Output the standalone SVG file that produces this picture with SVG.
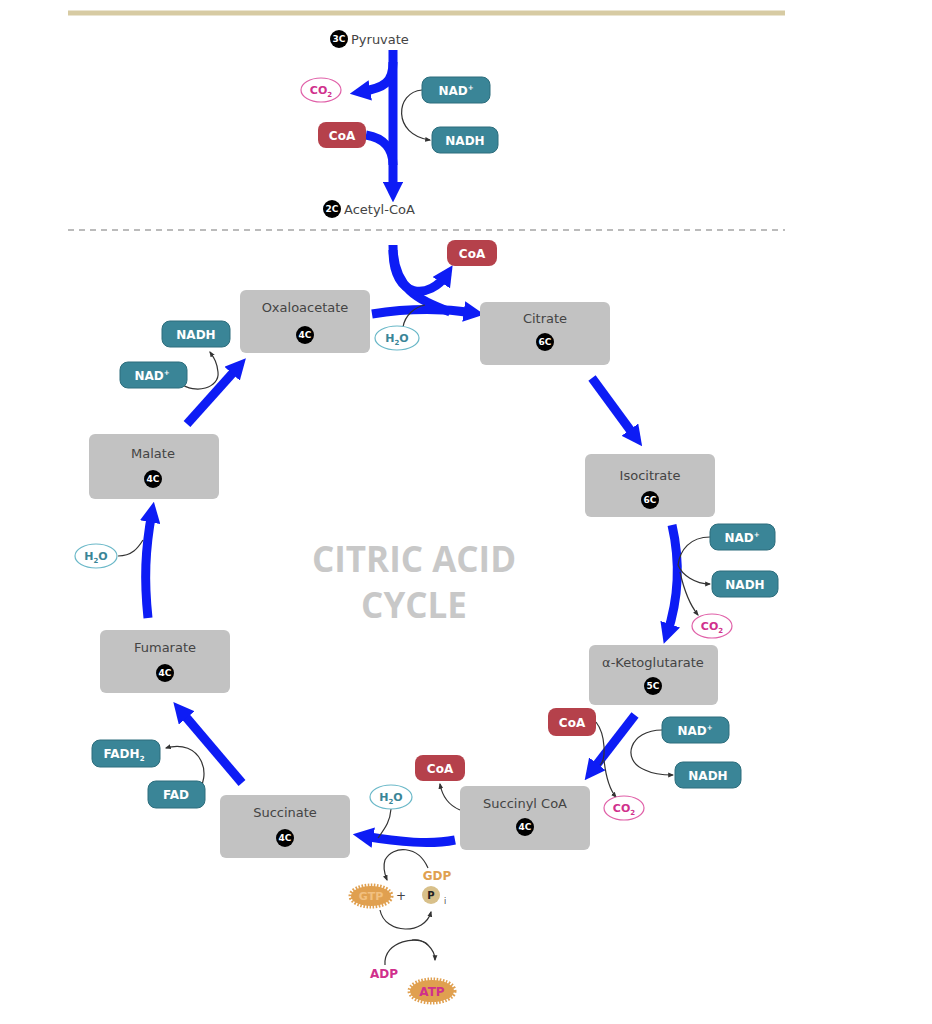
<svg xmlns="http://www.w3.org/2000/svg" width="932" height="1024" viewBox="0 0 932 1024">
<defs>
<marker id="bh" viewBox="0 0 10 10" refX="5" refY="5" markerWidth="2.3" markerHeight="2.3" orient="auto" markerUnits="strokeWidth"><path d="M0,0 L10,5 L0,10 z" fill="#0d1cf5"/></marker>
<marker id="th" viewBox="0 0 10 10" refX="8" refY="5" markerWidth="5" markerHeight="5" orient="auto" markerUnits="strokeWidth"><path d="M0,1 L10,5 L0,9 z" fill="#333"/></marker>
<style>
.box{fill:#c2c2c2}
.lbl{font-family:"DejaVu Sans",sans-serif;font-size:13px;fill:#444;text-anchor:middle}
.bd{fill:#000}
.bt{font-family:"DejaVu Sans",sans-serif;font-size:9px;font-weight:bold;fill:#fff;text-anchor:middle}
.teal{fill:#3a8597;stroke:#2c6d7c;stroke-width:1}
.red{fill:#b5414b}
.pt{font-family:"DejaVu Sans",sans-serif;font-size:12px;font-weight:bold;fill:#fff;text-anchor:middle}
.co2{fill:#fff;stroke:#e060a8;stroke-width:1.2}
.co2t{font-family:"DejaVu Sans",sans-serif;font-size:11px;font-weight:bold;fill:#d0308c;text-anchor:middle}
.h2o{fill:#fff;stroke:#6ab8c8;stroke-width:1.2}
.h2ot{font-family:"DejaVu Sans",sans-serif;font-size:11px;font-weight:bold;fill:#3a8597;text-anchor:middle}
.big{fill:none;stroke:#0d1cf5;stroke-width:9}
.big2{fill:none;stroke:#0d1cf5;stroke-width:9;marker-end:url(#bh)}
.thin{fill:none;stroke:#333;stroke-width:1.2}
.thina{fill:none;stroke:#333;stroke-width:1.2;marker-end:url(#th)}
.star{fill:#e0a050;stroke:#e0a050;stroke-width:5;stroke-dasharray:1.5 1.5}
</style>
</defs>
<rect width="932" height="1024" fill="#fff"/>
<line x1="68" y1="13" x2="785" y2="13" stroke="#d7cba3" stroke-width="5"/>
<line x1="68" y1="230" x2="785" y2="230" stroke="#bbb" stroke-width="2" stroke-dasharray="6 5"/>

<g id="connectors">
<path class="big2" d="M393,50 L393,192"/>
<path class="big2" d="M393,62 C393,82 385,88 360,92"/>
<path class="big" d="M366,135 C385,138 393,150 393,165"/>
<path class="thina" d="M422,90 C395,92 392,135 430,140"/>
<path class="big" d="M393,245 C393,290 420,300 450,312"/>
<path class="big2" d="M393,250 C393,300 430,300 447,274"/>
<path class="big2" d="M372,314 C410,308 440,308 474,313"/>
<path class="thin" d="M403,327 C405,315 415,307 425,305"/>
<path class="big2" d="M592,378 L636,438"/>
<path class="big2" d="M672,525 C680,560 680,595 667,634"/>
<path class="thin" d="M710,537 C690,537 680,550 678,565"/>
<path class="thina" d="M678,565 C682,575 695,584 710,584"/>
<path class="thina" d="M680,572 C684,590 690,605 698,615"/>
<path class="big2" d="M635,715 L591,772"/>
<path class="thin" d="M596,722 C606,735 606,760 600,765"/>
<path class="thina" d="M604,760 C606,778 610,790 616,797"/>
<path class="thina" d="M662,730 C630,730 620,760 645,770 C655,775 665,775 673,775"/>
<path class="big2" d="M455,840 C430,845 400,842 363,836"/>
<path class="thina" d="M460,810 C448,805 442,795 440,784"/>
<path class="thin" d="M391,809 C390,822 385,828 378,838"/>
<path class="thina" d="M428,868 C418,845 393,845 385,860 C383,866 385,875 387,880"/>
<path class="thina" d="M380,910 C385,935 425,935 431,912"/>
<path class="thin" d="M385,965 C383,940 420,935 428,945"/>
<path class="thina" d="M412,940 C425,938 435,950 435,960"/>
<path class="big2" d="M242,783 L180,710"/>
<path class="thina" d="M195,795 C215,775 200,738 166,748"/>
<path class="big2" d="M148,618 C144,580 145,550 152,512"/>
<path class="thin" d="M118,556 C132,556 138,548 143,540"/>
<path class="big2" d="M187,424 L239,366"/>
<path class="thina" d="M180,383 C195,395 220,388 218,372 C217,362 214,358 210,352"/>
</g>

<g id="pyruvate"><circle class="bd" cx="339" cy="39" r="9"/><text class="bt" x="339" y="42">3C</text><text class="lbl" x="351" y="44" style="text-anchor:start">Pyruvate</text></g>
<g id="acetylcoa"><circle class="bd" cx="332" cy="209" r="9"/><text class="bt" x="332" y="212">2C</text><text class="lbl" x="344" y="214" style="text-anchor:start">Acetyl-CoA</text></g>
<g id="co2-top"><ellipse class="co2" cx="321" cy="90" rx="20" ry="12"/><text class="co2t" x="321" y="94">CO<tspan font-size="7" dy="3">2</tspan></text></g>
<g id="coa-top"><rect class="red" x="318" y="122" width="48" height="26" rx="8"/><text class="pt" x="342" y="140">CoA</text></g>
<g id="nad-top"><rect class="teal" x="422" y="77" width="68" height="26" rx="8"/><text class="pt" x="456" y="95">NAD<tspan font-size="7" dy="-5">+</tspan></text></g>
<g id="nadh-top"><rect class="teal" x="432" y="127" width="66" height="26" rx="8"/><text class="pt" x="465" y="145">NADH</text></g>

<g id="coa-citrate"><rect class="red" x="447" y="240" width="50" height="26" rx="8"/><text class="pt" x="472" y="258">CoA</text></g>
<g id="h2o-citrate"><ellipse class="h2o" cx="397" cy="338" rx="22" ry="12"/><text class="h2ot" x="397" y="342">H<tspan font-size="7" dy="3">2</tspan><tspan dy="-3">O</tspan></text></g>

<g id="oxaloacetate"><rect class="box" x="240" y="290" width="130" height="63" rx="6"/><text class="lbl" x="305" y="312">Oxaloacetate</text><circle class="bd" cx="305" cy="335" r="9"/><text class="bt" x="305" y="338">4C</text></g>
<g id="citrate"><rect class="box" x="480" y="302" width="130" height="63" rx="6"/><text class="lbl" x="545" y="323">Citrate</text><circle class="bd" cx="545" cy="342" r="9"/><text class="bt" x="545" y="345">6C</text></g>
<g id="isocitrate"><rect class="box" x="585" y="454" width="130" height="63" rx="6"/><text class="lbl" x="650" y="480">Isocitrate</text><circle class="bd" cx="650" cy="500" r="9"/><text class="bt" x="650" y="503">6C</text></g>
<g id="aketoglutarate"><rect class="box" x="589" y="645" width="129" height="60" rx="6"/><text class="lbl" x="653" y="667">α-Ketoglutarate</text><circle class="bd" cx="653" cy="686" r="9"/><text class="bt" x="653" y="689">5C</text></g>
<g id="succinylcoa"><rect class="box" x="460" y="786" width="130" height="64" rx="6"/><text class="lbl" x="525" y="808">Succinyl CoA</text><circle class="bd" cx="525" cy="827" r="9"/><text class="bt" x="525" y="830">4C</text></g>
<g id="succinate"><rect class="box" x="220" y="795" width="130" height="63" rx="6"/><text class="lbl" x="285" y="817">Succinate</text><circle class="bd" cx="285" cy="838" r="9"/><text class="bt" x="285" y="841">4C</text></g>
<g id="fumarate"><rect class="box" x="100" y="630" width="130" height="63" rx="6"/><text class="lbl" x="165" y="652">Fumarate</text><circle class="bd" cx="165" cy="673" r="9"/><text class="bt" x="165" y="676">4C</text></g>
<g id="malate"><rect class="box" x="89" y="434" width="130" height="65" rx="6"/><text class="lbl" x="153" y="458">Malate</text><circle class="bd" cx="153" cy="479" r="9"/><text class="bt" x="153" y="482">4C</text></g>

<g id="nad-iso"><rect class="teal" x="710" y="524" width="65" height="26" rx="8"/><text class="pt" x="742" y="542">NAD<tspan font-size="7" dy="-5">+</tspan></text></g>
<g id="nadh-iso"><rect class="teal" x="712" y="571" width="66" height="26" rx="8"/><text class="pt" x="745" y="589">NADH</text></g>
<g id="co2-iso"><ellipse class="co2" cx="712" cy="626" rx="20" ry="12"/><text class="co2t" x="712" y="630">CO<tspan font-size="7" dy="3">2</tspan></text></g>
<g id="coa-akg"><rect class="red" x="548" y="708" width="48" height="28" rx="8"/><text class="pt" x="572" y="727">CoA</text></g>
<g id="nad-akg"><rect class="teal" x="662" y="717" width="67" height="26" rx="8"/><text class="pt" x="695" y="735">NAD<tspan font-size="7" dy="-5">+</tspan></text></g>
<g id="nadh-akg"><rect class="teal" x="675" y="762" width="66" height="26" rx="8"/><text class="pt" x="708" y="780">NADH</text></g>
<g id="co2-akg"><ellipse class="co2" cx="624" cy="808" rx="20" ry="12"/><text class="co2t" x="624" y="812">CO<tspan font-size="7" dy="3">2</tspan></text></g>

<g id="coa-succ"><rect class="red" x="415" y="755" width="50" height="26" rx="8"/><text class="pt" x="440" y="773">CoA</text></g>
<g id="h2o-succ"><ellipse class="h2o" cx="391" cy="797" rx="21" ry="12"/><text class="h2ot" x="391" y="801">H<tspan font-size="7" dy="3">2</tspan><tspan dy="-3">O</tspan></text></g>
<g id="gtp"><ellipse class="star" cx="371" cy="896" rx="20" ry="10"/><text x="371" y="900" style="font-family:'DejaVu Sans',sans-serif;font-size:11px;font-weight:bold;fill:#f2c080;text-anchor:middle">GTP</text></g>
<text x="401" y="900" style="font-family:'DejaVu Sans',sans-serif;font-size:12px;fill:#444;text-anchor:middle">+</text>
<g id="pi"><circle cx="431" cy="895" r="9" fill="#d8c08a"/><text x="431" y="899" style="font-family:'DejaVu Sans',sans-serif;font-size:10px;font-weight:bold;fill:#222;text-anchor:middle">P</text><text x="444" y="904" style="font-family:'DejaVu Sans',sans-serif;font-size:8px;fill:#444">i</text></g>
<g id="gdp"><text x="437" y="880" style="font-family:'DejaVu Sans',sans-serif;font-size:12px;font-weight:bold;fill:#e0a050;text-anchor:middle">GDP</text></g>
<g id="adp"><text x="384" y="978" style="font-family:'DejaVu Sans',sans-serif;font-size:12px;font-weight:bold;fill:#d0308c;text-anchor:middle">ADP</text></g>
<g id="atp"><ellipse class="star" cx="432" cy="991" rx="22" ry="11"/><text x="432" y="996" style="font-family:'DejaVu Sans',sans-serif;font-size:12px;font-weight:bold;fill:#d0308c;text-anchor:middle">ATP</text></g>

<g id="fadh2"><rect class="teal" x="92" y="740" width="68" height="27" rx="8"/><text class="pt" x="124" y="758">FADH<tspan font-size="7" dy="3">2</tspan></text></g>
<g id="fad"><rect class="teal" x="148" y="781" width="57" height="27" rx="8"/><text class="pt" x="176" y="799">FAD</text></g>
<g id="h2o-fum"><ellipse class="h2o" cx="96" cy="556" rx="21" ry="12"/><text class="h2ot" x="96" y="560">H<tspan font-size="7" dy="3">2</tspan><tspan dy="-3">O</tspan></text></g>
<g id="nadh-mal"><rect class="teal" x="162" y="321" width="68" height="26" rx="8"/><text class="pt" x="196" y="339">NADH</text></g>
<g id="nad-mal"><rect class="teal" x="120" y="362" width="67" height="26" rx="8"/><text class="pt" x="152" y="380">NAD<tspan font-size="7" dy="-5">+</tspan></text></g>

<g id="title"><text x="414" y="572" style="font-family:'Open Sans','DejaVu Sans',sans-serif;font-size:35px;font-weight:bold;fill:#c8c8c8;text-anchor:middle">CITRIC ACID</text><text x="414" y="618" style="font-family:'Open Sans','DejaVu Sans',sans-serif;font-size:35px;font-weight:bold;fill:#c8c8c8;text-anchor:middle">CYCLE</text></g>
</svg>
